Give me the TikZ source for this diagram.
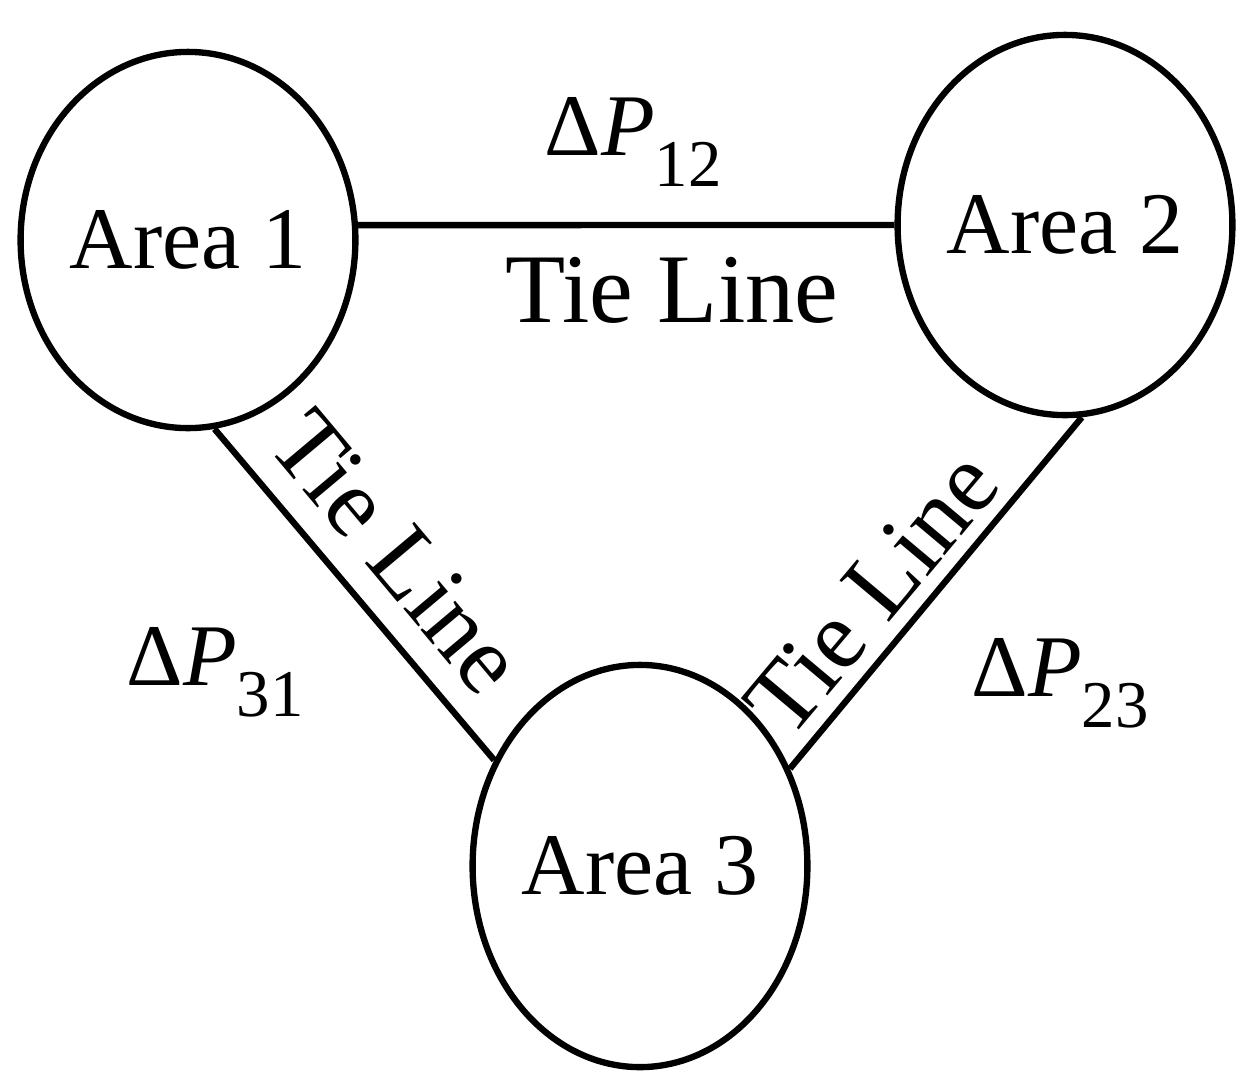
\documentclass[tikz,border=0pt]{standalone}
\usepackage{fontspec}
\setmainfont{Liberation Serif}
\usetikzlibrary{shapes.geometric}
\newcommand{\dP}[1]{Δ\textit{P}\raisebox{-0.35em}{\fontsize{19}{22}\selectfont #1}}
\begin{document}
\begin{tikzpicture}[x=0.01cm,y=-0.01cm,
  area/.style={ellipse,draw,line width=1.8pt,inner sep=0pt},
  tie/.style={line width=1.8pt},
  lbl/.style={font=\fontsize{25}{30}\selectfont,inner sep=0pt},
  tielbl/.style={font=\fontsize{28}{32}\selectfont,inner sep=0pt}]
\useasboundingbox (0,0) rectangle (1251,1084);
\node[area,minimum width=3.26cm,minimum height=3.76cm,lbl] (a1) at (188,240) {Area 1};
\node[area,minimum width=3.2cm,minimum height=3.8cm,lbl] (a2) at (1065,225) {Area 2};
\node[area,minimum width=3.3cm,minimum height=4.02cm,lbl] (a3) at (640,866) {Area 3};
\draw[tie] (a1.5) -- (a2.180);
\draw[tie] (a1.-82) -- (a3.144);
\draw[tie] (a2.-85) -- (a3.33);
\node[tielbl] (t12) at (672,290) {Tie Line};
\node[tielbl,rotate=-50] (t31) at (397,552) {Tie Line};
\node[tielbl,rotate=50] (t23) at (872,593) {Tie Line};
\node[lbl] (p12) at (633,142) {\dP{12}};
\node[lbl] (p31) at (215,672) {\dP{31}};
\node[lbl] (p23) at (1060,683) {\dP{23}};
\end{tikzpicture}
\end{document}
